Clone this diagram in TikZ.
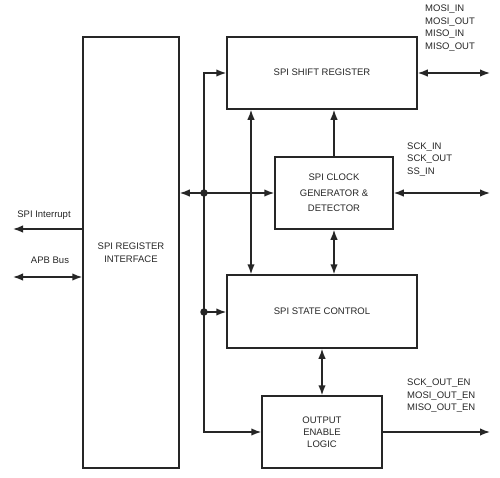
\documentclass[tikz,border=0pt]{standalone}
\usepackage{fontspec}
\setmainfont{Liberation Sans}
\usetikzlibrary{arrows.meta}
\begin{document}
\begin{tikzpicture}[x=1pt,y=-1pt,
  every node/.style={font=\fontsize{9.5}{12.5}\selectfont, text=black!85},
  blk/.style={draw=black!85, line width=1.5pt, align=center, inner sep=0pt},
  conn/.style={line width=1.5pt, draw=black!85},
  tip/.tip={Latex[length=10pt,width=7.5pt]},
  lbl/.style={anchor=north west, align=left, inner sep=0pt},
  dot/.style={circle, fill=black!85, inner sep=0pt, minimum size=7.5pt}]
\useasboundingbox (0,0) rectangle (500,477);
% blocks
\node[blk, minimum width=96pt, minimum height=431pt] (reg) at (131,252.5) {SPI REGISTER\\INTERFACE};
\node[blk, minimum width=190pt, minimum height=72pt] (shift) at (322,73) {\raisebox{2pt}{SPI SHIFT REGISTER}};
\node[blk, minimum width=118pt, minimum height=72pt, font=\fontsize{9.5}{15.5}\selectfont] (clk) at (334,193) {\raisebox{-3pt}{\parbox{110pt}{\centering SPI CLOCK\\GENERATOR \&\\DETECTOR}}};
\node[blk, minimum width=190pt, minimum height=73pt] (state) at (322,311.5) {SPI STATE CONTROL};
\node[blk, minimum width=120pt, minimum height=72pt, font=\fontsize{9.5}{12}\selectfont] (oel) at (322,432) {OUTPUT\\ENABLE\\LOGIC};
% junctions and free ends
\coordinate (j1) at (204,193);
\coordinate (j2) at (204,312);
\coordinate (eshift) at (490,73);
\coordinate (eclk) at (490,193);
\coordinate (eoel) at (490,432);
\coordinate (eint) at (13,229);
\coordinate (eapb) at (13,277);
% connectors
\draw[conn, tip-tip] (reg.east |- clk.west) -- (clk.west);
\draw[conn, -tip] (j1) |- (shift.west);
\draw[conn] (j1) -- (j2);
\draw[conn, -tip] (j2) -- (state.west |- j2);
\draw[conn, -tip] (j2) |- (oel.west);
\node[dot] (d1) at (j1) {};
\node[dot] (d2) at (j2) {};
\draw[conn, tip-tip] ([xshift=24.75pt]shift.south west) -- ([xshift=24.75pt]state.north west);
\draw[conn, -tip] (clk.north) -- (clk.north |- shift.south);
\draw[conn, tip-tip] (clk.south) -- (clk.south |- state.north);
\draw[conn, tip-tip] (oel.north |- state.south) -- (oel.north);
\draw[conn, tip-tip] (shift.east) -- (eshift);
\draw[conn, tip-tip] (clk.east) -- (eclk);
\draw[conn, -tip] (oel.east) -- (eoel);
\draw[conn, -tip] (reg.west |- eint) -- (eint);
\draw[conn, tip-tip] (reg.west |- eapb) -- (eapb);
% labels
\node[lbl] (lmosi) at (425,5) {MOSI\_IN\\MOSI\_OUT\\MISO\_IN\\MISO\_OUT};
\node[lbl] (lsck) at (407,142.5) {SCK\_IN\\SCK\_OUT\\SS\_IN};
\node[lbl] (len) at (407,379) {SCK\_OUT\_EN\\MOSI\_OUT\_EN\\MISO\_OUT\_EN};
\node (lint) at (44,215) {SPI Interrupt};
\node (lapb) at (50,260) {APB Bus};
\end{tikzpicture}
\end{document}
